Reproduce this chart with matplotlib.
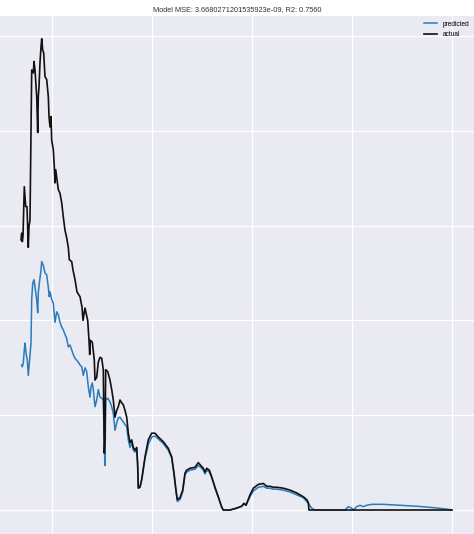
import matplotlib
matplotlib.use("Agg")
import matplotlib.pyplot as plt

title_text = "Model MSE: 3.6680271201535923e-09, R2: 0.7560"
series_labels = ["predicted", "actual"]

pred_x = [69.7, 70.3, 71.3, 72.3, 73, 74, 75.3, 76.3, 77.3, 79,
          79.7, 80.7, 82, 83, 84.7, 85.7, 86.3, 87.3, 89, 89.7,
          91.3, 93, 94.7, 96.3, 97.3, 98, 99.7, 101.3, 103, 104.7,
          106.3, 108, 109.7, 111.3, 113, 114.7, 116.3, 118, 119.7, 121.3,
          123, 124.7, 126.3, 128, 129.7, 131.3, 133, 134.7, 136.3, 138,
          139, 140.3, 141.3, 143, 144.7, 146.3, 148, 149.7, 151.3, 152.3,
          153, 153.7, 155.7, 158, 159.7, 161.3, 163, 164.7, 166.3, 168,
          169.7, 171.3, 173, 174.7, 176.3, 178, 179.7, 181.3, 183, 184.7,
          185.7, 186.3, 188, 189.7, 193, 196.3, 199.7, 203, 206.3, 211.3,
          216.3, 219.7, 222, 224, 225.3, 228, 230.7, 233, 234.7, 238,
          243, 246.3, 248.7, 251.3, 253, 254.7, 257.3, 259.7, 263, 266.3,
          269.7, 271.3, 278, 284.7, 289.7, 292, 294, 298, 301.3, 306.3,
          311.3, 314.7, 318, 321.3, 324.7, 331.3, 338, 344.7, 351.3, 356.3,
          359.7, 363, 393, 396.3, 399.7, 401.3, 404.7, 408, 411.3, 414.7,
          419.7, 431.3, 448, 464.7, 481.3, 494.7, 499.7]
pred_y = [1.53, 1.51, 1.55, 1.69, 1.76, 1.66, 1.58, 1.42, 1.55, 1.76,
          2.22, 2.39, 2.43, 2.35, 2.22, 2.08, 2.29, 2.39, 2.53, 2.62,
          2.58, 2.50, 2.48, 2.35, 2.25, 2.30, 2.22, 2.18, 1.98, 2.09,
          2.06, 1.98, 1.93, 1.90, 1.85, 1.81, 1.72, 1.74, 1.69, 1.64,
          1.60, 1.58, 1.56, 1.53, 1.51, 1.42, 1.50, 1.46, 1.30, 1.19,
          1.30, 1.34, 1.27, 1.09, 1.16, 1.27, 1.19, 1.18, 1.16, 0.66,
          0.47, 1.16, 1.18, 1.14, 1.09, 1.02, 0.84, 0.92, 0.97, 0.98,
          0.95, 0.93, 0.90, 0.88, 0.74, 0.66, 0.71, 0.63, 0.61, 0.65,
          0.50, 0.24, 0.25, 0.32, 0.54, 0.69, 0.77, 0.78, 0.75, 0.70,
          0.63, 0.55, 0.37, 0.19, 0.09, 0.11, 0.19, 0.37, 0.40, 0.42,
          0.43, 0.47, 0.45, 0.42, 0.38, 0.42, 0.40, 0.34, 0.23, 0.13,
          0.03, 0.0, 0.0, 0.02, 0.04, 0.07, 0.05, 0.14, 0.20, 0.24,
          0.25, 0.23, 0.23, 0.22, 0.22, 0.21, 0.19, 0.16, 0.13, 0.07,
          0.02, 0.0, 0.0, 0.035, 0.02, 0.0, 0.035, 0.05, 0.035, 0.05,
          0.06, 0.06, 0.05, 0.04, 0.025, 0.01, 0.0]

actual_x = [69, 69.7, 70.3, 71, 72.3, 73.7, 75, 76.3, 77, 78,
            79.7, 81.3, 82, 83, 84.7, 85.7, 86.3, 87, 88, 89,
            89.7, 90.7, 91.7, 93, 94.7, 96.3, 97, 98, 99, 99.7,
            101.3, 102.3, 103, 103.7, 104.7, 106.3, 108, 109.7, 111.3, 113,
            114.7, 116.3, 117.3, 119.7, 121, 123, 125, 128, 130, 131,
            133, 135.7, 137, 137.7, 138.3, 140.3, 142.3, 143, 144.7, 146.3,
            148, 149.7, 151.3, 152.3, 153, 153.7, 155.7, 158, 159.7, 161.3,
            163, 164.7, 166.3, 168, 169.7, 171.3, 173, 174.7, 176.3, 178,
            179.7, 181.3, 183, 184.7, 185.7, 186.3, 188, 189.7, 193, 196.3,
            199.7, 203, 206.3, 211.3, 216.3, 219.7, 222, 224, 225.3, 228,
            230.7, 233, 234.7, 238, 243, 246.3, 248.7, 251.3, 253, 254.7,
            257.3, 259.7, 263, 266.3, 269.7, 271.3, 278, 284.7, 289.7, 292,
            294, 298, 301.3, 306.3, 311.3, 314.7, 318, 321.3, 324.7, 331.3,
            338, 344.7, 351.3, 354.7, 356.3, 357, 500]
actual_y = [2.85, 2.92, 2.83, 2.89, 3.41, 3.20, 3.20, 2.77, 2.99, 3.06,
            4.64, 4.61, 4.73, 4.64, 4.36, 3.98, 4.36, 4.46, 4.72, 4.88,
            4.97, 4.85, 4.82, 4.57, 4.54, 4.36, 4.15, 4.04, 4.15, 3.90,
            3.80, 3.62, 3.45, 3.59, 3.51, 3.38, 3.34, 3.24, 3.09, 2.95,
            2.87, 2.77, 2.64, 2.62, 2.53, 2.43, 2.30, 2.25, 2.14, 2.00,
            2.13, 2.00, 1.79, 1.64, 1.79, 1.77, 1.58, 1.37, 1.40, 1.56,
            1.61, 1.60, 1.48, 0.60, 0.74, 1.48, 1.46, 1.37, 1.27, 1.16,
            0.98, 1.05, 1.09, 1.16, 1.13, 1.11, 1.05, 0.98, 0.81, 0.71,
            0.74, 0.66, 0.63, 0.66, 0.45, 0.23, 0.24, 0.32, 0.56, 0.74,
            0.81, 0.81, 0.77, 0.72, 0.65, 0.56, 0.39, 0.21, 0.11, 0.13,
            0.21, 0.39, 0.42, 0.44, 0.45, 0.50, 0.47, 0.44, 0.40, 0.44,
            0.42, 0.35, 0.24, 0.14, 0.03, 0.0, 0.0, 0.02, 0.04, 0.07,
            0.05, 0.16, 0.23, 0.27, 0.28, 0.25, 0.25, 0.24, 0.24, 0.23,
            0.21, 0.18, 0.14, 0.11, 0.08, 0.0, 0.0]

x_grid = [100, 200, 300, 400, 500]
y_grid = [0, 1, 2, 3, 4, 5]

fig = plt.figure(figsize=(4.74, 5.34), dpi=100, facecolor="white")
ax = fig.add_axes([0, 0, 1, 518 / 534])
ax.set_facecolor("#EAEAF2")
for s in ax.spines.values():
    s.set_visible(False)

ax.plot(pred_x, pred_y, color="#2b7bba", lw=1.1, label=series_labels[0])
ax.plot(actual_x, actual_y, color="#111111", lw=1.2, label=series_labels[1])

ax.set_xlim(48, 522)
ax.set_ylim(-0.253, 5.21)
ax.set_xticks(x_grid)
ax.set_yticks(y_grid)
ax.tick_params(length=0, labelbottom=False, labelleft=False)
ax.grid(True, color="white", lw=0.9)
ax.set_axisbelow(True)

fig.text(0.5, 1 - 9.5 / 534, title_text, ha="center", va="center",
         fontsize=5.3, family=["Liberation Sans", "DejaVu Sans"], color="#333333")

leg = ax.legend(loc="upper right", frameon=False, prop={"family": "Liberation Sans", "size": 4.7},
                handlelength=2.0, handletextpad=0.8, labelspacing=0.5,
                borderaxespad=0.3)

fig.savefig("out.png", dpi=100, facecolor="white")
